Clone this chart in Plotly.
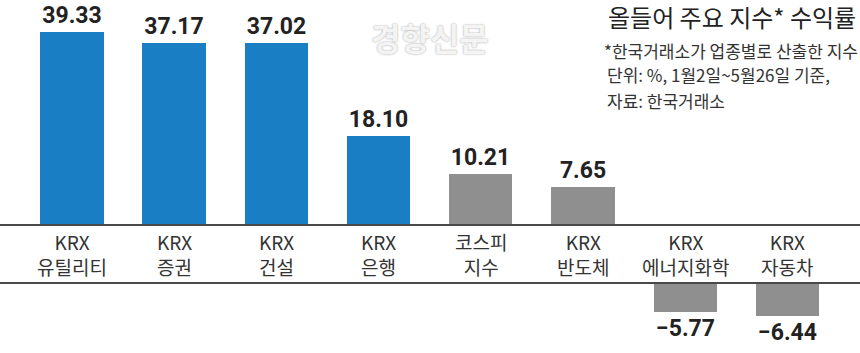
import plotly.graph_objects as go
from plotly.subplots import make_subplots

categories = ["KRX<br>유틸리티", "KRX<br>증권", "KRX<br>건설", "KRX<br>은행",
              "코스피<br>지수", "KRX<br>반도체", "KRX<br>에너지화학", "KRX<br>자동차"]
values = [39.33, 37.17, 37.02, 18.10, 10.21, 7.65, -5.77, -6.44]
highlight = [True, True, True, True, False, False, False, False]

title = "올들어 주요 지수* 수익률"
notes = ["*한국거래소가 업종별로 산출한 지수",
         "단위: %, 1월2일~5월26일 기준,",
         "자료: 한국거래소"]
watermark = "경향신문"

BLUE = "#1a7ec4"
GRAY = "#8f8f8f"
colors = [BLUE if h else GRAY for h in highlight]
labels = [f"{v:.2f}".replace("-", "\u2212") for v in values]
idx = list(range(len(values)))

H = 353.0
def py(p):
    return 1 - p / H

fig = make_subplots(rows=2, cols=1, shared_xaxes=False, vertical_spacing=0)

pos_y = [v if v > 0 else None for v in values]
neg_y = [v if v < 0 else None for v in values]
pos_t = [t if v > 0 else "" for v, t in zip(values, labels)]
neg_t = [t if v < 0 else "" for v, t in zip(values, labels)]

value_font = dict(family="Roboto, sans-serif", size=23, color="#222222", weight="bold")

fig.add_trace(go.Bar(x=idx, y=pos_y, marker_color=colors, width=0.62,
                     marker_line_width=0, text=pos_t, textposition="outside",
                     textfont=value_font, cliponaxis=False, constraintext="none",
                     hoverinfo="skip"), row=1, col=1)
fig.add_trace(go.Bar(x=idx, y=neg_y, marker_color=colors, width=0.62,
                     marker_line_width=0, text=neg_t, textposition="outside",
                     textfont=value_font, cliponaxis=False, constraintext="none",
                     hoverinfo="skip"), row=2, col=1)

xr = [-0.704, 7.71]
fig.update_xaxes(range=xr, showgrid=False, zeroline=False, showticklabels=False,
                 ticks="", domain=[0, 1])
fig.update_layout(
    xaxis=dict(showline=True, linecolor="#4a4a4a", linewidth=2),
    xaxis2=dict(showline=True, linecolor="#4a4a4a", linewidth=2, side="top"),
    yaxis=dict(domain=[py(224), 1], range=[0, 45.9], visible=False),
    yaxis2=dict(domain=[0, py(284)], range=[-14.1, 0], visible=False),
)

ann = []
for i, c in enumerate(categories):
    ann.append(dict(x=i, y=py(254), xref="x", yref="paper", text=c, showarrow=False,
                    xanchor="center", yanchor="middle",
                    font=dict(family="Noto Sans CJK KR", size=19, color="#333333")))

ann.append(dict(x=858 / 860, y=py(16), xref="paper", yref="paper", text=title,
                showarrow=False, xanchor="right", yanchor="middle",
                font=dict(family="Noto Sans CJK KR", size=24, color="#222222")))
note_y = [50, 75, 100]
note_x = [602, 605, 605]
for t, yy, xx in zip(notes, note_y, note_x):
    ann.append(dict(x=xx / 860, y=py(yy), xref="paper", yref="paper", text=t,
                    showarrow=False, xanchor="left", yanchor="middle",
                    font=dict(family="Noto Sans CJK KR", size=17, color="#333333")))

ann.append(dict(x=430 / 860, y=py(37), xref="paper", yref="paper", text="<b>" + watermark + "</b>",
                showarrow=False, xanchor="center", yanchor="middle",
                font=dict(family="Noto Sans CJK KR", size=32, color="#f4f4f4",
                          shadow="0px 0px 2px #9a9a9a")))

fig.update_layout(
    annotations=ann,
    width=860, height=353,
    margin=dict(l=0, r=0, t=0, b=0),
    paper_bgcolor="white", plot_bgcolor="white",
    showlegend=False, bargap=0,
)

fig.write_html("out.html", config={"displayModeBar": False})
